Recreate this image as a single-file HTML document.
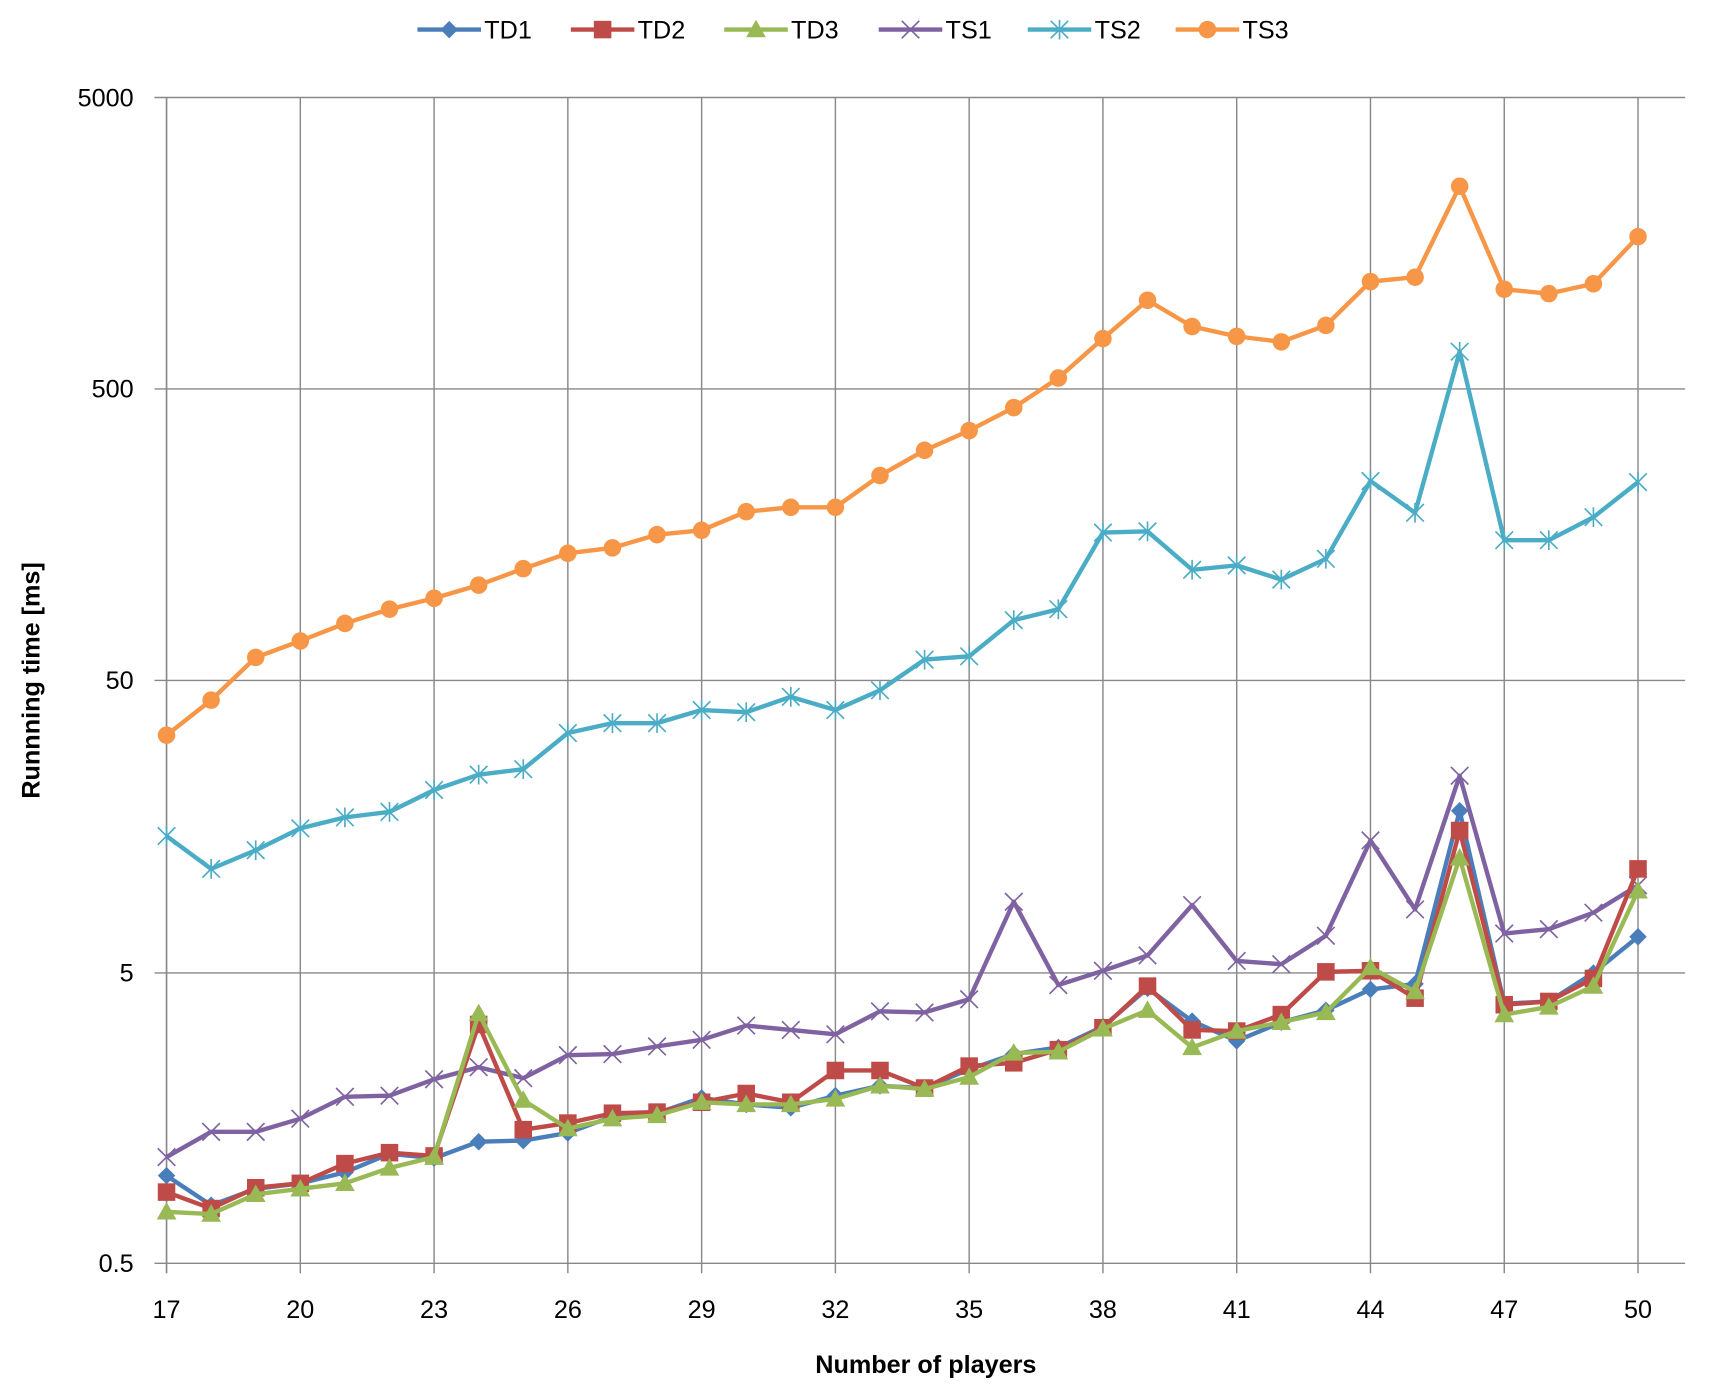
<!DOCTYPE html><html><head><style>body{margin:0;background:#fff}svg{display:block}</style></head><body>
<svg id="s" width="1718" height="1397" viewBox="0 0 1568 1275" preserveAspectRatio="none" font-family="Liberation Sans, sans-serif"></svg>
<script>
const s=document.getElementById('s');let h='';
const X=n=>152+(n-17)*40.697;
for(let n=17;n<=50;n+=3){h+=`<line x1="${X(n)}" y1="89" x2="${X(n)}" y2="1162" stroke="#888" stroke-width="1.3"/>`;h+=`<text x="${X(n)}" y="1203" font-size="23" text-anchor="middle" fill="#000">${n}</text>`;}
[[89,'5000'],[355,'500'],[621,'50'],[888,'5'],[1153,'0.5']].forEach(([y,t])=>{h+=`<line x1="141" y1="${y}" x2="1538" y2="${y}" stroke="#888" stroke-width="1.3"/><text x="122" y="${y+8}" font-size="23" text-anchor="end">${t}</text>`;});
h+=`<line x1="152" y1="89" x2="152" y2="1162" stroke="#888" stroke-width="1.3"/>`;
h+=`<text x="845" y="1253" font-size="23" font-weight="bold" text-anchor="middle">Number of players</text>`;
h+=`<text transform="translate(36,621) rotate(-90)" font-size="23" font-weight="bold" text-anchor="middle">Runnning time [ms]</text>`;
const D={
TS3:['#f79646','c',[671,639,600,585,569,556,546,534,519,505,500,488,484,467,463,463,434,411,393,372,345,309,274,298,307,312,297,257,253,170,264,268,259,216]],
TS2:['#4bacc6','s',[763,793,776,756,746,741,721,707,702,669,660,660,648,650,636,648,630,602,599,566,556,486,485,520,516,529,510,439,468,321,493,493,472,440]],
TS1:['#7f62a1','x',[1056,1033,1033,1021,1001,1000,985,974,984,963,962,955,949,936,940,944,923,924,912,823,899,886,872,826,877,880,854,767,830,708,852,848,833,808]],
TD1:['#4a7ebb','d',[1073,1100,1085,1080,1070,1053,1057,1042,1041,1034,1019,1016,1002,1008,1011,1000,991,993,976,962,956,937,902,932,950,933,922,903,898,740,916,914,888,855]],
TD2:['#be4b48','q',[1088,1103,1084,1080,1062,1052,1055,935,1031,1025,1016,1015,1006,998,1006,977,977,993,973,970,958,938,900,940,941,926,887,886,911,758,917,914,893,793]],
TD3:['#98b954','t',[1106,1108,1090,1085,1080,1066,1056,925,1004,1030,1021,1018,1006,1008,1008,1003,991,994,983,961,960,939,922,956,941,933,924,883,905,783,926,919,900,813]]};
function mk(t,x,y,c){
 if(t=='c')return `<circle cx="${x}" cy="${y}" r="8" fill="${c}"/>`;
 if(t=='q')return `<rect x="${x-8}" y="${y-8}" width="16" height="16" fill="${c}"/>`;
 if(t=='d')return `<path d="M${x} ${y-8}L${x+8} ${y}L${x} ${y+8}L${x-8} ${y}Z" fill="${c}"/>`;
 if(t=='t')return `<path d="M${x} ${y-9}L${x+9} ${y+7}L${x-9} ${y+7}Z" fill="${c}"/>`;
 if(t=='x')return `<path d="M${x-8} ${y-8}L${x+8} ${y+8}M${x-8} ${y+8}L${x+8} ${y-8}" stroke="${c}" stroke-width="1.5"/>`;
 if(t=='s')return `<path d="M${x-8} ${y-8}L${x+8} ${y+8}M${x-8} ${y+8}L${x+8} ${y-8}M${x} ${y-9}V${y+9}" stroke="${c}" stroke-width="1.5"/>`;
}
for(const k of ['TS3','TS2','TS1','TD1','TD2','TD3']){const [c,t,a]=D[k];
 h+=`<polyline fill="none" stroke="${c}" stroke-width="4" stroke-linejoin="round" points="${a.map((y,i)=>X(17+i)+','+y).join(' ')}"/>`;
 a.forEach((y,i)=>h+=mk(t,X(17+i),y,c));}
const L=[['TD1',381],['TD2',521],['TD3',661],['TS1',802],['TS2',938],['TS3',1073]];
L.forEach(([k,x])=>{const [c,t]=D[k];h+=`<line x1="${x}" y1="27" x2="${x+58}" y2="27" stroke="${c}" stroke-width="4"/>`+mk(t,x+29,27,c)+`<text x="${x+61}" y="35" font-size="23">${k}</text>`;});
s.innerHTML=h;
</script></body></html>
